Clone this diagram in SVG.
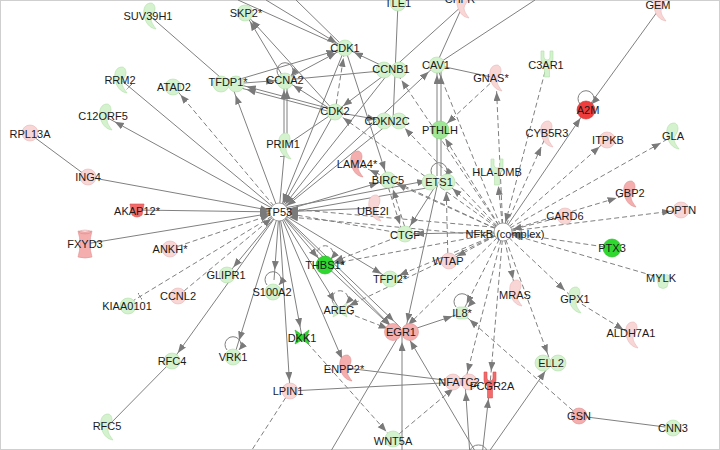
<svg xmlns="http://www.w3.org/2000/svg" xmlns:xlink="http://www.w3.org/1999/xlink" width="720" height="450" viewBox="0 0 720 450">
<style>
.e{fill:none;stroke:#808080;stroke-width:1}
.d{stroke-dasharray:5 3}
.a{marker-end:url(#ma)}
.b{marker-end:url(#mb)}
.t{marker-end:url(#mt)}
.l{marker-end:url(#ml)}
.lbl{font-family:"Liberation Sans",Arial,sans-serif;font-size:11px;fill:#1a1a1a;text-anchor:middle}
.lg{fill:#d3f2cd;stroke:#b2dfaa;stroke-width:0.6}
.mg{fill:#9fe696;stroke:#80d276;stroke-width:0.6}
.bg{fill:#2fd82f;stroke:#22b522;stroke-width:0.6}
.lp{fill:#f9d6d6;stroke:#e9b5b5;stroke-width:0.6}
.mp{fill:#f4aeae;stroke:#e08e8e;stroke-width:0.6}
.rd{fill:#ef3d3d;stroke:#d02c2c;stroke-width:0.6}
.r2{fill:#f26a6a;stroke:#d85050;stroke-width:0.6}
.wh{fill:#ffffff;stroke:#909090;stroke-width:0.8}
</style>
<defs>
<marker id="ma" markerUnits="userSpaceOnUse" markerWidth="30" markerHeight="10" refX="19" refY="3.5" orient="auto"><path d="M0,0 L9,3.5 L0,7 z" fill="#7a7a7a"/></marker>
<marker id="mb" markerUnits="userSpaceOnUse" markerWidth="30" markerHeight="10" refX="23" refY="3.5" orient="auto"><path d="M0,0 L9,3.5 L0,7 z" fill="#7a7a7a"/></marker>
<marker id="ml" markerUnits="userSpaceOnUse" markerWidth="12" markerHeight="10" refX="8" refY="3.5" orient="auto"><path d="M0,0 L8,3.5 L0,7 z" fill="#7a7a7a"/></marker>
<marker id="mt" markerUnits="userSpaceOnUse" markerWidth="14" markerHeight="10" refX="11" refY="4" orient="auto"><path d="M0,0 L0,8" stroke="#7a7a7a" stroke-width="1.2"/></marker>
<path id="enz" d="M1,-13 C-5,-13 -7,-7 -6,-1 C-5,6 -1,12 6,13 C3,9 1,6 1,3 C1,0 5,-3 5,-7 C5,-11 3,-13 1,-13 Z"/>
<path id="rec" d="M-6,-13 L-3,-13 L-3,-7 Q-3,-4 0,-4 Q3,-4 3,-7 L3,-13 L6,-13 L6,-5 Q6,0 2.5,1 L2.5,13 L-2.5,13 L-2.5,1 Q-6,0 -6,-5 Z"/>
<path id="trn" d="M-7,-13 Q0,-11 7,-13 Q3,0 7,13 Q0,15 -7,13 Q-3,0 -7,-13 Z"/>
<path id="gf" d="M-7,-7 L0,-2 L7,-7 L5,0 L7,7 L0,3 L-7,7 L-5,0 Z"/>
<path id="kin" d="M-7,-5 Q-4,-8 0,-5 Q4,-8 7,-5 L4,6 Q0,9 -4,6 Z"/>
<path id="cup" d="M-7,-6 L7,-6 L5,5 Q0,9 -5,5 Z"/>
</defs>
<rect x="0.5" y="0.5" width="719" height="449" fill="#ffffff" stroke="#cfcfcf"/>

<g id="connectors">
<!-- into TP53 -->
<line class="e a" x1="88" y1="177" x2="279" y2="212"/>
<line class="e a" x1="137" y1="210" x2="279" y2="212"/>
<line class="e a" x1="85" y1="244" x2="279" y2="212"/>
<line class="e a" x1="375" y1="208" x2="279" y2="212"/>
<line class="e a" x1="438" y1="186" x2="279" y2="214"/>
<line class="e a" x1="345" y1="48" x2="279" y2="212"/>
<line class="e a" x1="335" y1="112" x2="279" y2="212"/>
<line class="e a" x1="392" y1="121" x2="279" y2="212"/>
<line class="e a" x1="391" y1="70" x2="279" y2="212"/>
<line class="e d a" x1="170" y1="249" x2="279" y2="212"/>
<line class="e d a" x1="178" y1="296" x2="279" y2="212"/>
<line class="e d a" x1="405" y1="234" x2="279" y2="212"/>
<line class="e d a" x1="503" y1="228" x2="279" y2="208"/>
<line class="e d a" x1="503" y1="237" x2="279" y2="216"/>
<!-- out of TP53 -->
<line class="e a" x1="279" y1="212" x2="388" y2="180"/>
<line class="e a" x1="279" y1="209" x2="436" y2="179"/>
<line class="e a" x1="279" y1="212" x2="227" y2="275"/>
<line class="e a" x1="279" y1="212" x2="172" y2="361"/>
<line class="e a" x1="279" y1="212" x2="236" y2="350"/>
<line class="e a" x1="279" y1="212" x2="274" y2="280"/>
<line class="e a" x1="279" y1="212" x2="290" y2="391"/>
<line class="e a" x1="279" y1="212" x2="302" y2="337"/>
<line class="e a" x1="279" y1="212" x2="346" y2="368"/>
<line class="e a" x1="279" y1="212" x2="324" y2="265"/>
<line class="e a" x1="279" y1="212" x2="340" y2="310"/>
<line class="e a" x1="281" y1="214" x2="397" y2="332"/>
<line class="e a" x1="278" y1="210" x2="401" y2="328"/>
<line class="e a" x1="279" y1="212" x2="390" y2="279"/>
<line class="e a" x1="279" y1="212" x2="106" y2="117"/>
<line class="e a" x1="279" y1="212" x2="232" y2="86"/>
<line class="e a" x1="279" y1="212" x2="436" y2="65"/>
<line class="e t" x1="279" y1="212" x2="285" y2="146"/>
<line class="e t" x1="279" y1="212" x2="121" y2="80"/>
<line class="e d a" x1="279" y1="212" x2="174" y2="87"/>
<line class="e d t" x1="279" y1="212" x2="131" y2="302"/>
<!-- top cluster -->
<line class="e" x1="150" y1="16" x2="228" y2="84"/>
<line class="e" x1="238" y1="0" x2="345" y2="48"/>
<line class="e a" x1="266" y1="0" x2="345" y2="48"/>
<line class="e" x1="296" y1="0" x2="345" y2="48"/>
<line class="e a" x1="335" y1="112" x2="245" y2="13"/>
<line class="e a" x1="285" y1="80" x2="245" y2="13"/>
<line class="e a" x1="285" y1="80" x2="345" y2="48"/>
<line class="e a" x1="230" y1="82" x2="345" y2="48"/>
<line class="e a" x1="230" y1="84" x2="285" y2="80"/>
<line class="e a" x1="335" y1="110" x2="237" y2="84"/>
<line class="e a" x1="335" y1="113" x2="237" y2="87"/>
<line class="e a" x1="335" y1="112" x2="285" y2="80"/>
<line class="e d a" x1="335" y1="112" x2="345" y2="48"/>
<line class="e a" x1="391" y1="70" x2="345" y2="48"/>
<line class="e" x1="285" y1="80" x2="391" y2="70"/>
<line class="e a" x1="335" y1="112" x2="386" y2="121"/>
<line class="e a" x1="391" y1="70" x2="335" y2="112"/>
<line class="e a" x1="345" y1="48" x2="388" y2="180"/>
<line class="e" x1="398" y1="3" x2="393" y2="121"/>
<line class="e" x1="463" y1="5" x2="391" y2="70"/>
<line class="e" x1="463" y1="5" x2="436" y2="65"/>
<line class="e" x1="436" y1="65" x2="535" y2="0"/>
<line class="e" x1="436" y1="65" x2="496" y2="78"/>
<line class="e a" x1="284" y1="146" x2="284" y2="80"/>
<line class="e a" x1="287" y1="146" x2="287" y2="80"/>
<line class="e" x1="335" y1="112" x2="285" y2="146"/>
<line class="e a" x1="437" y1="176" x2="437" y2="65"/>
<line class="e a" x1="441" y1="176" x2="441" y2="65"/>
<line class="e d a" x1="496" y1="78" x2="440" y2="130"/>
<line class="e d" x1="436" y1="65" x2="503" y2="232"/>
<!-- NFkB fan -->
<line class="e d b" x1="503" y1="232" x2="496" y2="78"/>
<line class="e d a" x1="547" y1="64" x2="503" y2="232"/>
<line class="e a" x1="503" y1="232" x2="586" y2="110"/>
<line class="e d b" x1="503" y1="232" x2="547" y2="134"/>
<line class="e d a" x1="503" y1="232" x2="607" y2="140"/>
<line class="e d b" x1="503" y1="232" x2="673" y2="136"/>
<line class="e d b" x1="503" y1="232" x2="630" y2="194"/>
<line class="e d a" x1="503" y1="232" x2="681" y2="210"/>
<line class="e d a" x1="565" y1="216" x2="503" y2="232"/>
<line class="e d a" x1="612" y1="248" x2="503" y2="232"/>
<line class="e d a" x1="661" y1="278" x2="503" y2="232"/>
<line class="e d b" x1="503" y1="232" x2="497" y2="172"/>
<line class="e d b" x1="503" y1="232" x2="516" y2="293"/>
<line class="e d b" x1="503" y1="232" x2="575" y2="300"/>
<line class="e d a" x1="503" y1="232" x2="551" y2="363"/>
<line class="e d a" x1="503" y1="232" x2="462" y2="313"/>
<line class="e d a" x1="503" y1="232" x2="465" y2="382"/>
<line class="e d b" x1="503" y1="232" x2="490" y2="385"/>
<line class="e d a" x1="503" y1="232" x2="448" y2="261"/>
<line class="e d a" x1="503" y1="232" x2="390" y2="279"/>
<line class="e d a" x1="503" y1="232" x2="325" y2="265"/>
<line class="e d a" x1="503" y1="232" x2="340" y2="310"/>
<line class="e d a" x1="503" y1="232" x2="401" y2="332"/>
<line class="e a" x1="503" y1="232" x2="405" y2="234"/>
<line class="e d a" x1="503" y1="232" x2="388" y2="180"/>
<line class="e d a" x1="503" y1="232" x2="445" y2="182"/>
<line class="e d b" x1="503" y1="232" x2="357" y2="164"/>
<line class="e d a" x1="503" y1="232" x2="398" y2="121"/>
<line class="e d a" x1="503" y1="232" x2="396" y2="72"/>
<line class="e d a" x1="503" y1="232" x2="440" y2="130"/>
<line class="e d a" x1="503" y1="232" x2="335" y2="112"/>
<line class="e d a" x1="575" y1="300" x2="632" y2="335"/>
<line class="e" x1="660" y1="8" x2="586" y2="110"/>
<!-- lower -->
<line class="e a" x1="438" y1="182" x2="405" y2="234"/>
<line class="e a" x1="438" y1="182" x2="405" y2="332"/>
<line class="e d a" x1="386" y1="180" x2="403" y2="234"/>
<line class="e d a" x1="407" y1="234" x2="390" y2="180"/>
<line class="e d a" x1="448" y1="261" x2="446" y2="182"/>
<line class="e d a" x1="405" y1="234" x2="325" y2="265"/>
<line class="e a" x1="325" y1="265" x2="397" y2="332"/>
<line class="e d a" x1="340" y1="310" x2="397" y2="332"/>
<line class="e a" x1="405" y1="332" x2="462" y2="313"/>
<line class="e d a" x1="579" y1="416" x2="462" y2="313"/>
<line class="e" x1="579" y1="416" x2="673" y2="428"/>
<line class="e a" x1="402" y1="456" x2="402" y2="332"/>
<line class="e" x1="401" y1="332" x2="328" y2="456"/>
<line class="e a" x1="478" y1="456" x2="405" y2="332"/>
<line class="e a" x1="470" y1="456" x2="465" y2="382"/>
<line class="e b" x1="482" y1="456" x2="490" y2="385"/>
<line class="e a" x1="486" y1="456" x2="551" y2="363"/>
<line class="e" x1="346" y1="368" x2="461" y2="382"/>
<line class="e" x1="290" y1="391" x2="461" y2="382"/>
<line class="e d a" x1="302" y1="337" x2="393" y2="439"/>
<line class="e d a" x1="393" y1="439" x2="461" y2="382"/>
<line class="e d" x1="290" y1="391" x2="248" y2="456"/>
<line class="e" x1="172" y1="361" x2="107" y2="427"/>
<line class="e" x1="30" y1="134" x2="88" y2="177"/>
<!-- self loops -->
<path class="e l" d="M279,76 A8,8 0 1,1 291,76"/>
<path class="e l" d="M580,104 A8,8 0 1,1 592,104"/>
<path class="e l" d="M433,176 A8,8 0 1,1 445,176"/>
<path class="e d l" d="M319,259 A8,8 0 1,1 331,259"/>
<path class="e d l" d="M334,304 A8,8 0 1,1 346,304"/>
<path class="e l" d="M267,285 A8,8 0 1,1 279,285"/>
<path class="e l" d="M227,350 A8,8 0 1,1 239,350"/>
<path class="e l" d="M456,307 A8,8 0 1,1 468,307"/>
<path class="e" d="M470,451 A9,9 0 0,1 487,451"/>
</g>

<g id="n-SUV39H1"><use href="#enz" x="150" y="16" class="lg"/><text class="lbl" x="148" y="20">SUV39H1</text></g>
<g id="n-SKP2"><circle cx="245" cy="13" r="8" class="lg"/><text class="lbl" x="246" y="17">SKP2*</text></g>
<g id="n-TLE1"><circle cx="398" cy="3" r="8" class="lg"/><text class="lbl" x="398" y="7">TLE1</text></g>
<g id="n-CHFR"><use href="#enz" x="463" y="5" class="lp"/><text class="lbl" x="460" y="3">CHFR</text></g>
<g id="n-GEM"><use href="#enz" x="660" y="8" class="lp"/><text class="lbl" x="658" y="9">GEM</text></g>
<g id="n-CDK1"><circle cx="345" cy="48" r="8" class="lg"/><text class="lbl" x="345" y="52">CDK1</text></g>
<g id="n-CCNB1"><circle cx="384" cy="70" r="8" class="lg"/><circle cx="399" cy="70" r="8" class="lg"/><text class="lbl" x="391" y="73">CCNB1</text></g>
<g id="n-CAV1"><circle cx="437" cy="65" r="8" class="lg"/><text class="lbl" x="436" y="69">CAV1</text></g>
<g id="n-C3AR1"><use href="#rec" x="547" y="64" class="lg"/><text class="lbl" x="546" y="69">C3AR1</text></g>
<g id="n-GNAS"><use href="#enz" x="496" y="78" class="lp"/><text class="lbl" x="491" y="82">GNAS*</text></g>
<g id="n-RRM2"><use href="#enz" x="121" y="80" class="lg"/><text class="lbl" x="120" y="84">RRM2</text></g>
<g id="n-ATAD2"><circle cx="173" cy="87" r="8" class="lg"/><text class="lbl" x="174" y="91">ATAD2</text></g>
<g id="n-TFDP1"><circle cx="221" cy="84" r="8" class="lg"/><circle cx="236" cy="84" r="8" class="lg"/><text class="lbl" x="228" y="86">TFDP1*</text></g>
<g id="n-CCNA2"><circle cx="285" cy="81" r="8" class="lg"/><text class="lbl" x="285" y="84">CCNA2</text></g>
<g id="n-A2M"><circle cx="586" cy="110" r="9" class="rd"/><text class="lbl" x="588" y="114">A2M</text></g>
<g id="n-C12ORF5"><use href="#enz" x="106" y="117" class="lg"/><text class="lbl" x="103" y="120">C12ORF5</text></g>
<g id="n-CDK2"><circle cx="335" cy="112" r="8" class="lg"/><text class="lbl" x="335" y="115">CDK2</text></g>
<g id="n-CDKN2C"><circle cx="384" cy="121" r="8" class="lg"/><circle cx="399" cy="121" r="8" class="lg"/><text class="lbl" x="387" y="125">CDKN2C</text></g>
<g id="n-PTHLH"><circle cx="440" cy="130" r="9" class="mg"/><text class="lbl" x="440" y="134">PTHLH</text></g>
<g id="n-CYB5R3"><use href="#enz" x="547" y="134" class="lp"/><text class="lbl" x="547" y="137">CYB5R3</text></g>
<g id="n-ITPKB"><circle cx="607" cy="140" r="8" class="lp"/><text class="lbl" x="608" y="144">ITPKB</text></g>
<g id="n-GLA"><use href="#enz" x="673" y="136" class="lg"/><text class="lbl" x="673" y="140">GLA</text></g>
<g id="n-RPL13A"><circle cx="30" cy="133" r="8" class="lp"/><text class="lbl" x="30" y="138">RPL13A</text></g>
<g id="n-PRIM1"><use href="#enz" x="285" y="146" class="lg"/><text class="lbl" x="283" y="148">PRIM1</text></g>
<g id="n-LAMA4"><use href="#enz" x="357" y="164" class="mp"/><text class="lbl" x="357" y="168">LAMA4*</text></g>
<g id="n-BIRC5"><circle cx="388" cy="180" r="8" class="lg"/><text class="lbl" x="388" y="184">BIRC5</text></g>
<g id="n-ETS1"><circle cx="430" cy="182" r="8" class="lg"/><circle cx="447" cy="182" r="8" class="lg"/><text class="lbl" x="439" y="186">ETS1</text></g>
<g id="n-HLA-DMB"><use href="#rec" x="497" y="172" class="lg"/><text class="lbl" x="497" y="176">HLA-DMB</text></g>
<g id="n-ING4"><circle cx="88" cy="177" r="8" class="lp"/><text class="lbl" x="88" y="181">ING4</text></g>
<g id="n-AKAP12"><use href="#cup" x="137" y="210" class="r2"/><text class="lbl" x="137" y="215">AKAP12*</text></g>
<g id="n-TP53"><circle cx="279" cy="212" r="9" class="wh"/><text class="lbl" x="279" y="216">TP53</text></g>
<g id="n-UBE2I"><use href="#enz" x="375" y="208" class="lp"/><text class="lbl" x="373" y="215">UBE2I</text></g>
<g id="n-CARD6"><circle cx="565" cy="216" r="8" class="lp"/><text class="lbl" x="565" y="220">CARD6</text></g>
<g id="n-GBP2"><use href="#enz" x="630" y="194" class="mp"/><text class="lbl" x="630" y="197">GBP2</text></g>
<g id="n-OPTN"><circle cx="681" cy="210" r="8" class="lp"/><text class="lbl" x="681" y="214">OPTN</text></g>
<g id="n-FXYD3"><use href="#trn" x="85" y="244" class="mp"/><ellipse cx="85" cy="232" rx="6" ry="1.8" fill="none" stroke="#d88c8c" stroke-width="0.6"/><text class="lbl" x="85" y="248">FXYD3</text></g>
<g id="n-ANKH"><circle cx="170" cy="249" r="8" class="lp"/><text class="lbl" x="170" y="253">ANKH*</text></g>
<g id="n-CTGF"><circle cx="405" cy="234" r="8" class="lg"/><text class="lbl" x="405" y="239">CTGF</text></g>
<g id="n-NFkB"><circle cx="503" cy="232" r="9" class="wh"/><text class="lbl" x="505" y="238">NFkB (complex)</text></g>
<g id="n-THBS1"><circle cx="325" cy="265" r="9" class="bg"/><text class="lbl" x="325" y="269">THBS1*</text></g>
<g id="n-WTAP"><circle cx="449" cy="261" r="8" class="lp"/><text class="lbl" x="448" y="265">WTAP</text></g>
<g id="n-PTX3"><circle cx="612" cy="248" r="9" class="bg"/><text class="lbl" x="612" y="252">PTX3</text></g>
<g id="n-MYLK"><use href="#kin" x="663" y="281" class="lg"/><text class="lbl" x="661" y="282">MYLK</text></g>
<g id="n-GLIPR1"><circle cx="227" cy="275" r="8" class="lg"/><text class="lbl" x="226" y="279">GLIPR1</text></g>
<g id="n-S100A2"><circle cx="273" cy="292" r="8" class="lg"/><text class="lbl" x="272" y="296">S100A2</text></g>
<g id="n-TFPI2"><circle cx="390" cy="279" r="8" class="lg"/><text class="lbl" x="390" y="283">TFPI2*</text></g>
<g id="n-AREG"><use href="#gf" x="340" y="310" class="lg"/><text class="lbl" x="339" y="314">AREG</text></g>
<g id="n-CCNL2"><circle cx="178" cy="296" r="8" class="lp"/><text class="lbl" x="178" y="300">CCNL2</text></g>
<g id="n-KIAA0101"><circle cx="128" cy="306" r="8" class="lg"/><text class="lbl" x="127" y="310">KIAA0101</text></g>
<g id="n-EGR1"><circle cx="393" cy="332" r="8.5" class="mp"/><circle cx="410" cy="332" r="8.5" class="mp"/><text class="lbl" x="401" y="336">EGR1</text></g>
<g id="n-IL8"><rect x="456" y="307" width="12" height="12" rx="3" class="lg"/><text class="lbl" x="462" y="317">IL8*</text></g>
<g id="n-MRAS"><use href="#enz" x="516" y="293" class="lp"/><text class="lbl" x="515" y="299">MRAS</text></g>
<g id="n-GPX1"><use href="#enz" x="575" y="300" class="lg"/><text class="lbl" x="575" y="303">GPX1</text></g>
<g id="n-ALDH7A1"><use href="#enz" x="632" y="335" class="lp"/><text class="lbl" x="631" y="337">ALDH7A1</text></g>
<g id="n-DKK1"><use href="#gf" x="302" y="337" class="bg"/><text class="lbl" x="302" y="342">DKK1</text></g>
<g id="n-VRK1"><circle cx="233" cy="357" r="8" class="lg"/><text class="lbl" x="233" y="361">VRK1</text></g>
<g id="n-RFC4"><circle cx="172" cy="361" r="8" class="lg"/><text class="lbl" x="172" y="365">RFC4</text></g>
<g id="n-ENPP2"><use href="#enz" x="346" y="368" class="mp"/><text class="lbl" x="344" y="373">ENPP2*</text></g>
<g id="n-ELL2"><circle cx="543" cy="363" r="8" class="lg"/><circle cx="558" cy="363" r="8" class="lg"/><text class="lbl" x="551" y="367">ELL2</text></g>
<g id="n-NFATC2"><circle cx="453" cy="382" r="8" class="lp"/><circle cx="469" cy="382" r="8" class="lp"/><text class="lbl" x="459" y="386">NFATC2</text></g>
<g id="n-FCGR2A"><use href="#rec" x="490" y="385" class="r2"/><text class="lbl" x="492" y="390">FCGR2A</text></g>
<g id="n-LPIN1"><circle cx="290" cy="391" r="8" class="lp"/><text class="lbl" x="288" y="395">LPIN1</text></g>
<g id="n-GSN"><circle cx="579" cy="416" r="8" class="mp"/><text class="lbl" x="579" y="420">GSN</text></g>
<g id="n-CNN3"><circle cx="673" cy="428" r="8" class="lg"/><text class="lbl" x="673" y="432">CNN3</text></g>
<g id="n-RFC5"><use href="#enz" x="107" y="427" class="lg"/><text class="lbl" x="107" y="430">RFC5</text></g>
<g id="n-WNT5A"><circle cx="393" cy="439" r="8" class="lg"/><text class="lbl" x="393" y="445">WNT5A</text></g>
</svg>
